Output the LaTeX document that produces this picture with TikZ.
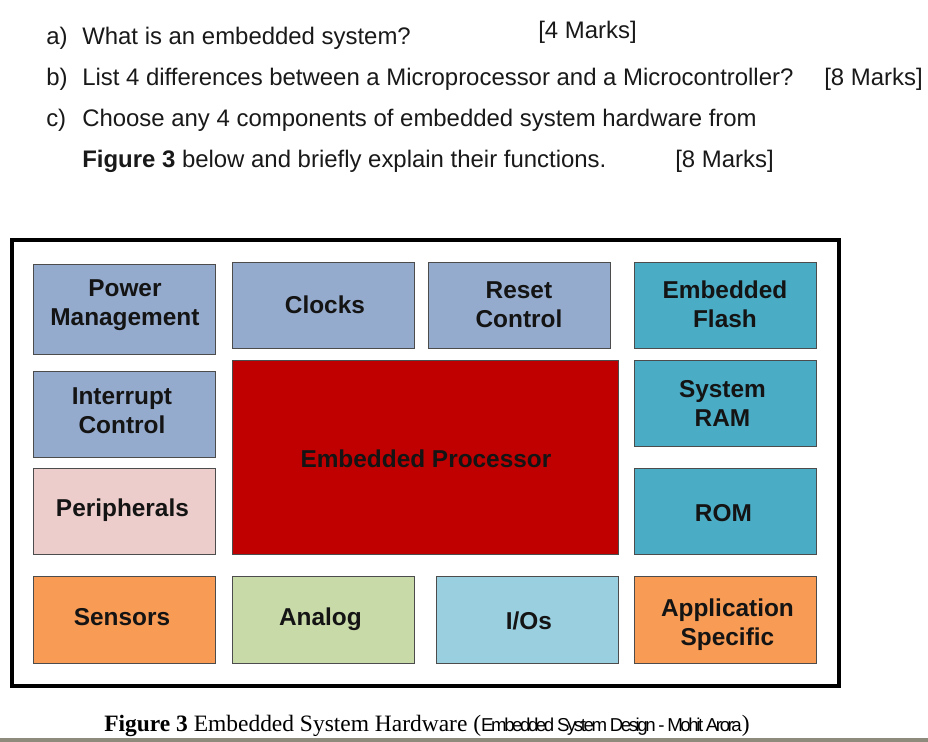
\documentclass[tikz,border=0pt]{standalone}
\usepackage{fontspec}
\setmainfont{Liberation Sans}
\newfontfamily\serifcap{Liberation Serif}
\tikzset{x=0.75pt,y=-0.75pt,
blk/.style={draw=black!70,line width=0.5pt,inner sep=0pt},
blktext/.style={align=center,font=\fontsize{18.3}{21.8}\selectfont\bfseries,inner sep=0pt,text=black!92},
qtext/.style={anchor=base west,inner sep=0pt,font=\fontsize{17.95}{20}\selectfont,text=black!90}}
\definecolor{cblue}{HTML}{95ABCD}\definecolor{cteal}{HTML}{4BACC6}\definecolor{cred}{HTML}{C00000}
\definecolor{cpink}{HTML}{EDCDCB}\definecolor{corange}{HTML}{F79B55}\definecolor{cgreen}{HTML}{C9DAA9}\definecolor{clight}{HTML}{9ACFDF}
\definecolor{cstrip}{HTML}{8F8B7C}
% x y w h name fill text-shift-x,text-shift-y text
\newcommand{\bx}[9]{\node[blk,fill=#6,minimum width=#3*0.75pt,minimum height=#4*0.75pt,anchor=north west] (#5) at (#1-0.4,#2-0.4) {};
\node[blktext] (#5t) at ([xshift=#7*0.75pt,yshift=-#8*0.75pt]#5.center) {#9};}
\begin{document}
\begin{tikzpicture}
\useasboundingbox (0,0) rectangle (928,742);
\fill[white] (0,0) rectangle (928,742);
\node[qtext] (qa1) at (46,45) {a)};
\node[qtext] (qa2) at (82,45) {What is an embedded system?};
\node[qtext] (qa3) at (538,39) {[4 Marks]};
\node[qtext] (qb1) at (46,86) {b)};
\node[qtext] (qb2) at (82,86) {List 4 differences between a Microprocessor and a Microcontroller?};
\node[qtext] (qb3) at (824,86) {[8 Marks]};
\node[qtext] (qc1) at (46,126) {c)};
\node[qtext] (qc2) at (82,126) {Choose any 4 components of embedded system hardware from};
\node[qtext] (qc3) at (82,167) {\textbf{Figure 3} below and briefly explain their functions.};
\node[qtext] (qc4) at (675,167) {[8 Marks]};
\draw[line width=3pt] (12,240) rectangle (839,686);
\bx{33}{264}{182}{90}{pm}{cblue}{1}{-3.5}{Power\\Management}
\bx{232}{262}{182}{86}{clk}{cblue}{2}{-0.5}{Clocks}
\bx{428}{262}{182}{86}{rst}{cblue}{0}{0}{Reset\\Control}
\bx{634}{262}{182}{86}{fl}{cteal}{0}{-1}{Embedded\\Flash}
\bx{33}{371}{182}{86}{ic}{cblue}{-2}{-3}{Interrupt\\Control}
\bx{634}{360}{182}{86}{ram}{cteal}{-2.5}{0.5}{System\\RAM}
\bx{232}{360}{386}{194}{ep}{cred}{1}{2}{Embedded Processor}
\bx{33}{468}{182}{86}{per}{cpink}{-1.5}{-1}{Peripherals}
\bx{634}{468}{182}{86}{rom}{cteal}{-1.5}{2}{ROM}
\bx{33}{576}{182}{87}{sen}{corange}{-2}{-2}{Sensors}
\bx{232}{576}{182}{87}{ana}{cgreen}{-2.5}{0}{Analog}
\bx{436}{576}{182}{87}{io}{clight}{2}{1}{I/Os}
\bx{634}{576}{182}{87}{app}{corange}{2.5}{5}{Application\\Specific}
\node[anchor=base west,inner sep=0pt,font=\fontsize{17.6}{20}\selectfont\serifcap] (cap) at (104,731) {\textbf{Figure 3} Embedded System Hardware (\fontspec{Liberation Sans}\fontsize{14}{16}\selectfont\addfontfeature{LetterSpace=-13.1}Embedded System Design - Mohit Arora\serifcap\fontsize{17.6}{20}\selectfont)};
\fill[cstrip] (0,738) rectangle (928,742);
\end{tikzpicture}
\end{document}
